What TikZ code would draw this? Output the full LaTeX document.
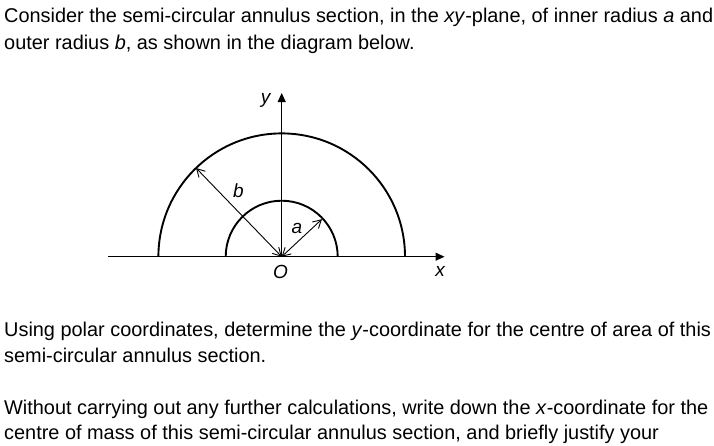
\documentclass[tikz,border=0pt]{standalone}
\usepackage{fontspec}
\setmainfont{Liberation Sans}
\usetikzlibrary{arrows.meta,calc}
\begin{document}
\begin{tikzpicture}[x=1pt,y=-1pt,
  bodytext/.style={anchor=base west,inner sep=0pt,font=\fontsize{19.9}{24}\selectfont},
  lbl/.style={inner sep=0pt,font=\fontsize{19}{23}\selectfont\itshape},
  axis/.style={line width=1.1pt,-{Triangle[length=9pt,width=8pt]}},
  rim/.style={line width=1.9pt},
  radius arrow/.style={line width=0.9pt,{Straight Barb[length=8pt,width=9pt]}-{Straight Barb[length=8pt,width=9pt]}}]
\useasboundingbox (0,0) rectangle (714,445);
% text
\node[bodytext] (t1) at (4,22.7) {Consider the semi-circular annulus section, in the \textit{xy}-plane, of inner radius \textit{a} and};
\node[bodytext] (t2) at (4,49.3) {outer radius \textit{b}, as shown in the diagram below.};
\node[bodytext] (t3) at (4,336.7) {Using polar coordinates, determine the \textit{y}-coordinate for the centre of area of this};
\node[bodytext] (t4) at (4,362) {semi-circular annulus section.};
\node[bodytext] (t5) at (4,414) {Without carrying out any further calculations, write down the \textit{x}-coordinate for the};
\node[bodytext] (t6) at (4,439) {centre of mass of this semi-circular annulus section, and briefly justify your};
% geometry
\coordinate (O) at (281.7,256.7);
\coordinate (xs) at (108,256.7);
\coordinate (xe) at (444.5,256.7);
\coordinate (ye) at (281.7,93);
\coordinate (bend) at ($(O)+(-134:123.3)$);
\coordinate (aend) at ($(O)+(-43:55)$);
\draw[rim] ($(O)+(-123.3,0)$) arc[start angle=-180,end angle=0,radius=123.3];
\draw[rim] ($(O)+(-56,0)$) arc[start angle=-180,end angle=0,radius=56];
\draw[axis] (xs) -- (xe);
\draw[axis] (O) -- (ye);
\draw[radius arrow] (O) -- (bend);
\draw[radius arrow] (O) -- (aend);
\node[lbl] (ly) at (265.5,100) {y};
\node[lbl] (lx) at (440,271.5) {x};
\node[lbl] (lO) at (280.5,271.5) {O};
\node[lbl] (lb) at (238.3,191) {b};
\node[lbl] (la) at (297,228) {a};
\end{tikzpicture}
\end{document}
